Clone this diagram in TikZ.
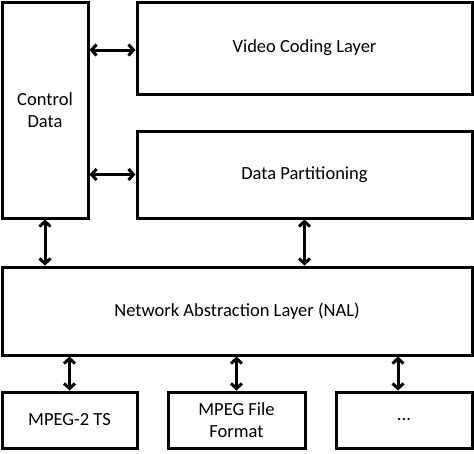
\documentclass[tikz,border=0pt]{standalone}
\usepackage{fontspec}
\setmainfont{Carlito}
\usetikzlibrary{arrows.meta,positioning}

\begin{document}
\begin{tikzpicture}[x=1pt,y=-1pt,>={Straight Barb[length=5pt,width=11pt,line width=3pt]},
  layerbox/.style={draw,line width=3pt,inner sep=0pt,align=center,font=\fontsize{18.5}{22}\selectfont},
  link/.style={<->,line width=3pt}]
\useasboundingbox (0,0) rectangle (474,453);
\node[layerbox,minimum width=86pt,minimum height=216pt] (ctrl) at (45,110) {Control\\Data};
\node[layerbox,minimum width=335pt,minimum height=92pt] (vcl) at (304.5,48) {Video Coding Layer};
\node[layerbox,minimum width=335pt,minimum height=87pt] (dp) at (304.5,174.5) {Data Partitioning};
\node[layerbox,minimum width=470pt,minimum height=88pt] (nal) at (237,311) {Network Abstraction Layer (NAL)};
\node[layerbox,minimum width=135pt,minimum height=56pt] (ts) at (69.5,420) {MPEG-2 TS};
\node[layerbox,minimum width=137pt,minimum height=56pt,right=28pt of ts] (ff) {MPEG File\\Format};
\node[layerbox,minimum width=136pt,minimum height=56pt,right=28pt of ff] (dots) {...};
\draw[link] (ctrl.east |- 0,50) -- (vcl.west |- 0,50);
\draw[link] (ctrl.east |- dp.west) -- (dp.west);
\draw[link] (ctrl.south) -- (ctrl.south |- nal.north);
\draw[link] (dp.south) -- (dp.south |- nal.north);
\draw[link] (ts.north) -- (ts.north |- nal.south);
\draw[link] (ff.north) -- (ff.north |- nal.south);
\draw[link] ([xshift=-6pt]dots.north) -- ([xshift=-6pt]dots.north |- nal.south);
\end{tikzpicture}
\end{document}
